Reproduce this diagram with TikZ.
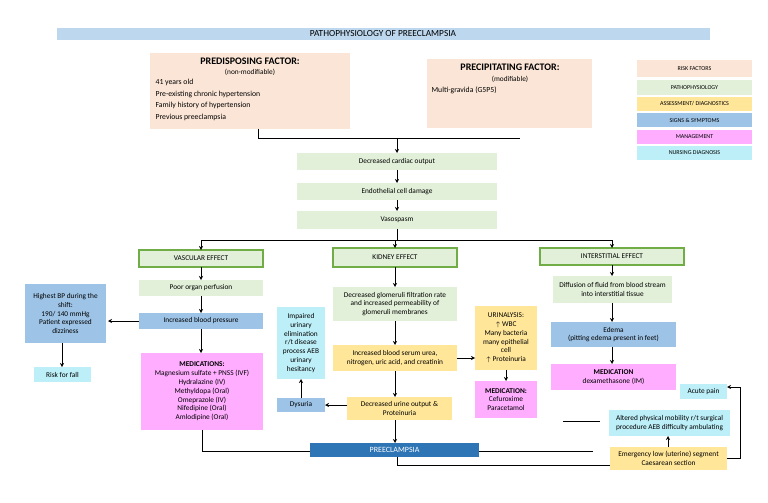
\documentclass[tikz,border=0pt]{standalone}
\usepackage{fontspec}
\setmainfont{Carlito}
\usetikzlibrary{arrows.meta}
\definecolor{risk}{HTML}{FBE5D6}
\definecolor{patho}{HTML}{E2F0D9}
\definecolor{assess}{HTML}{FFE699}
\definecolor{sign}{HTML}{9DC3E6}
\definecolor{mgmt}{HTML}{FFADFF}
\definecolor{nurse}{HTML}{BDEFF8}
\definecolor{titlebar}{HTML}{BDD7EE}
\definecolor{pre}{HTML}{2E75B6}
\definecolor{edge}{HTML}{70AD47}
\begin{document}
\begin{tikzpicture}[x=0.75pt,y=-0.75pt,
  box/.style={inner sep=1pt,font=\fontsize{5.5}{6.6}\selectfont,align=center},
  arr/.style={-{Stealth[length=3pt,width=3pt]},thin},
  ln/.style={thin}]
\useasboundingbox (0,0) rectangle (768,503);
\def\bx#1#2#3#4#5#6#7{\path[fill=#6,#7] (#2,#3) rectangle (#4,#5); \node[box] (#1) at ({(#2+#4)/2},{(#3+#5)/2}) {};}
% title
\fill[titlebar] (57,28) rectangle (710,40);
\node[box,font=\fontsize{7}{8}\selectfont] (title) at (383,34) {PATHOPHYSIOLOGY OF PREECLAMPSIA};
% risk factors
\fill[risk] (150,53) rectangle (350,129);
\node[box,anchor=north,font=\fontsize{7.5}{9}\selectfont\bfseries] (pdf) at (250,56) {PREDISPOSING FACTOR:};
\node[box,anchor=north] (pdfs) at (250,68) {(non-modifiable)};
\node[box,anchor=north west,align=left,font=\fontsize{5.8}{8.6}\selectfont] (pdft) at (154,78) {41 years old\\Pre-existing chronic hypertension\\Family history of hypertension\\Previous preeclampsia};
\fill[risk] (427,59) rectangle (592,128);
\node[box,anchor=north,font=\fontsize{7.5}{9}\selectfont\bfseries] (pcf) at (510,62) {PRECIPITATING FACTOR:};
\node[box,anchor=north] (pcfs) at (510,75) {(modifiable)};
\node[box,anchor=north west,font=\fontsize{5.8}{7}\selectfont] (pcft) at (430,85) {Multi-gravida (G5P5)};
% legend
\begin{scope}[every node/.style={box,font=\fontsize{4.5}{5}\selectfont}]
\fill[risk] (637,60) rectangle (752,77); \node (l1) at (694.5,68.5) {RISK FACTORS};
\fill[patho] (637,80) rectangle (752,95); \node (l2) at (694.5,87.5) {PATHOPHYSIOLOGY};
\fill[assess] (637,97) rectangle (752,111); \node (l3) at (694.5,104) {ASSESSMENT/ DIAGNOSTICS};
\fill[sign] (637,113) rectangle (752,127); \node (l4) at (694.5,120) {SIGNS \& SYMPTOMS};
\fill[mgmt] (637,130) rectangle (752,144); \node (l5) at (694.5,137) {MANAGEMENT};
\fill[nurse] (637,146) rectangle (752,160); \node (l6) at (694.5,153) {NURSING DIAGNOSIS};
\end{scope}
% pathophysiology chain
\fill[patho] (297,153) rectangle (497,170); \node[box] (co) at (397,161.5) {Decreased cardiac output};
\fill[patho] (297,183) rectangle (497,200); \node[box] (ed) at (397,191.5) {Endothelial cell damage};
\fill[patho] (297,211) rectangle (497,229); \node[box] (vs) at (397,220) {Vasospasm};
\coordinate (jl) at (258,138); \coordinate (jr) at (520,138); \coordinate (jm) at (397,138);
\draw[ln] (258,129) -- (jl) -- (jr);
\draw[arr] (jm) -- (co.north |- 0,153);
\draw[arr] (397,170) -- (397,183);
\draw[arr] (397,200) -- (397,211);
\draw[ln] (397,229) -- (397,240);
\draw[ln] (201,240) -- (612,240);
% effects
\path[fill=patho,draw=edge,thick] (139,250) rectangle (263,267); \node[box] (ve) at (201,258.5) {VASCULAR EFFECT};
\path[fill=patho,draw=edge,thick] (333,248) rectangle (457,267); \node[box] (ke) at (395,257.5) {KIDNEY EFFECT};
\path[fill=patho,draw=edge,thick] (540,248) rectangle (684,265); \node[box] (ie) at (612,256.5) {INTERSTITIAL EFFECT};
\draw[arr] (201,240) -- (201,250);
\draw[arr] (395,240) -- (395,248);
\draw[arr] (612,240) -- (612,248);
% vascular
\fill[patho] (139,280) rectangle (263,296); \node[box] (po) at (201,288) {Poor organ perfusion};
\fill[sign] (139,313) rectangle (263,329); \node[box] (bp) at (201,321) {Increased blood pressure};
\fill[sign] (25,284) rectangle (106,343); \node[box] (hb) at (65.5,313.5) {Highest BP during the\\shift:\\190/ 140 mmHg\\Patient expressed\\dizziness};
\fill[nurse] (34,367) rectangle (91,382); \node[box] (rf) at (62.5,374.5) {Risk for fall};
\fill[mgmt] (141,353) rectangle (263,430); \node[box] (md) at (202,391.5) {\textbf{MEDICATIONS:}\\Magnesium sulfate + PNSS (IVF)\\Hydralazine (IV)\\Methyldopa (Oral)\\Omeprazole (IV)\\Nifedipine (Oral)\\Amlodipine (Oral)};
\draw[arr] (201,267) -- (201,280);
\draw[arr] (201,296) -- (201,313);
\draw[arr] (139,321) -- (108,321);
\draw[arr] (62,343) -- (62,367);
\draw[arr] (201,329) -- (201,353);
% kidney
\fill[patho] (333,287) rectangle (457,321); \node[box] (gf) at (395,304) {Decreased glomeruli filtration rate\\and increased permeability of\\glomeruli membranes};
\fill[assess] (333,345) rectangle (457,371); \node[box] (bs) at (395,358) {Increased blood serum urea,\\nitrogen, uric acid, and creatinin};
\fill[assess] (347,397) rectangle (452,420); \node[box] (uo) at (399.5,408.5) {Decreased urine output \&\\Proteinuria};
\fill[nurse] (277,307) rectangle (325,379); \node[box] (iu) at (301,343) {Impaired\\urinary\\elimination\\r/t disease\\process AEB\\urinary\\hesitancy};
\fill[sign] (277,398) rectangle (325,412); \node[box] (dy) at (301,405) {Dysuria};
\fill[assess] (475,306) rectangle (537,370); \node[box] (ua) at (506,338) {URINALYSIS:\\$\uparrow$ WBC\\Many bacteria\\many epithelial\\cell\\$\uparrow$ Proteinuria};
\fill[mgmt] (475,381) rectangle (537,418); \node[box] (mu) at (506,399.5) {\textbf{MEDICATION:}\\Cefuroxime\\Paracetamol};
\draw[arr] (395,267) -- (395,287);
\draw[arr] (395,321) -- (395,345);
\draw[arr] (395,371) -- (395,397);
\draw[arr] (457,358) -- (475,358);
\draw[arr] (506,370) -- (506,381);
\draw[arr] (347,405) -- (325,405);
\draw[arr] (301,398) -- (301,379);
% interstitial
\fill[patho] (553,276) rectangle (672,303); \node[box] (df) at (612.5,289.5) {Diffusion of fluid from blood stream\\into interstitial tissue};
\fill[sign] (551,322) rectangle (676,347); \node[box] (em) at (613.5,334.5) {Edema\\(pitting edema present in feet)};
\fill[mgmt] (551,364) rectangle (676,390); \node[box] (dx) at (613.5,377) {\textbf{MEDICATION}\\dexamethasone (IM)};
\draw[arr] (612,265) -- (612,276);
\draw[arr] (612,303) -- (612,322);
\draw[arr] (612,347) -- (612,364);
% management
\fill[nurse] (680,384) rectangle (727,399); \node[box] (ap) at (703.5,391.5) {Acute pain};
\fill[nurse] (609,410) rectangle (730,436); \node[box] (am) at (669.5,423) {Altered physical mobility r/t surgical\\procedure AEB difficulty ambulating};
\fill[assess] (610,447) rectangle (727,470); \node[box] (cs) at (668.5,458.5) {Emergency low (uterine) segment\\Caesarean section};
\draw[arr] (668,447) -- (668,436);
\draw[arr] (727,458) -- (740,458) -- (740,387) -- (727,387);
\draw[ln] (563,421) -- (600,421);
% preeclampsia
\fill[pre] (310,443) rectangle (479,457); \node[box,text=white,font=\fontsize{6}{7}\selectfont] (pe) at (394.5,450) {PREECLAMPSIA};
\draw[arr] (395,420) -- (395,443);
\draw[ln] (202,430) -- (202,451) -- (310,451);
\draw[ln] (479,451) -- (593,451);
\draw[ln] (397,457) -- (397,465) -- (610,465);
\end{tikzpicture}
\end{document}
